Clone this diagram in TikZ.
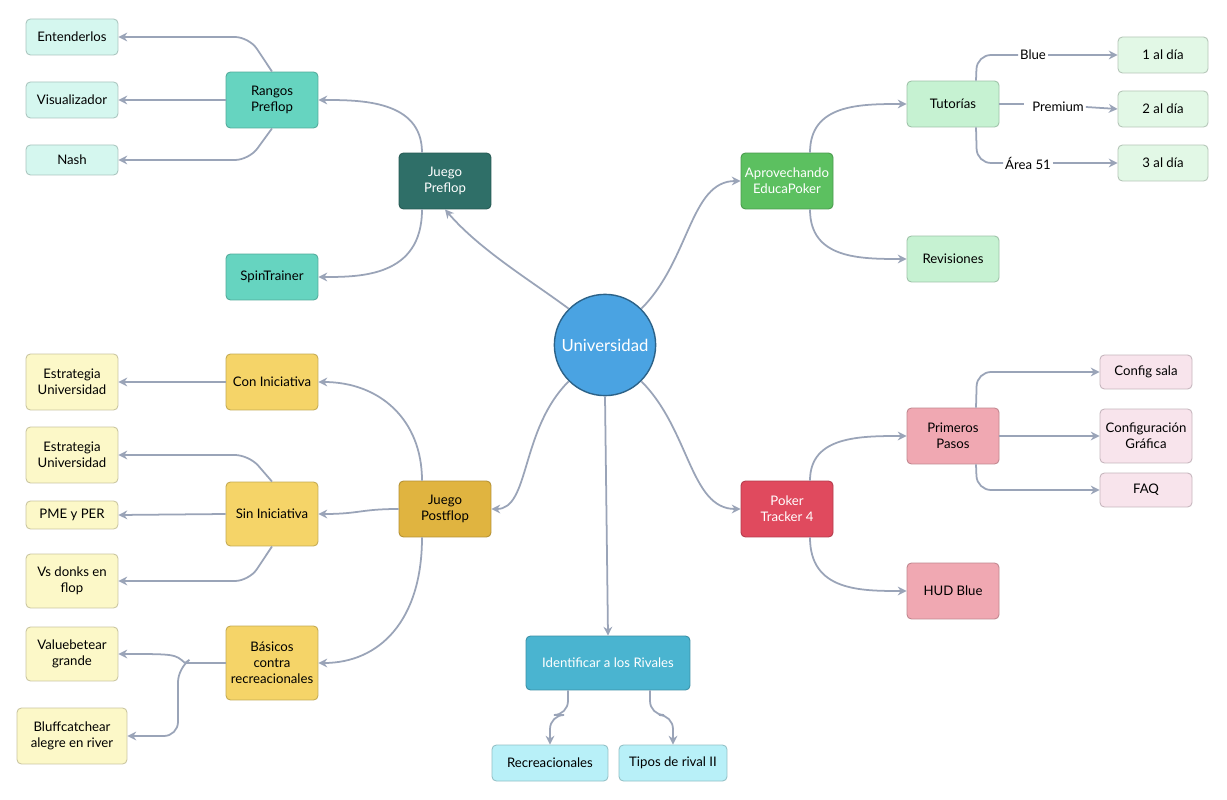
\documentclass[tikz,border=0pt]{standalone}
\usepackage{fontspec}
\setmainfont{Lato}
\usetikzlibrary{arrows.meta}
\begin{document}
\begin{tikzpicture}[x=0.02cm,y=-0.02cm,
 box/.style={draw=#1!80!black,fill=#1,rounded corners=2.5pt,align=center,font=\fontsize{7.5}{9}\selectfont,inner sep=1pt,line width=0.5pt},
 lbl/.style={font=\fontsize{7.5}{9}\selectfont,inner sep=1pt},
 con/.style={draw=cl,line width=1pt,-{Stealth[length=5pt,width=5pt]}},
 ln/.style={draw=cl,line width=1pt},
 rc/.style={rounded corners=8pt}]
\definecolor{cl}{HTML}{9AA4B8}
\definecolor{uni}{HTML}{4AA3E2}
\definecolor{dteal}{HTML}{2F6F68}
\definecolor{mteal}{HTML}{66D4C0}
\definecolor{lteal}{HTML}{D5F7EF}
\definecolor{dgreen}{HTML}{5CC060}
\definecolor{mgreen}{HTML}{C6F2D2}
\definecolor{lgreen}{HTML}{E2F8E6}
\definecolor{dred}{HTML}{E04A5E}
\definecolor{mred}{HTML}{F0A8B2}
\definecolor{lred}{HTML}{F8E4EC}
\definecolor{dyel}{HTML}{E0B440}
\definecolor{myel}{HTML}{F5D468}
\definecolor{lyel}{HTML}{FCF8C8}
\definecolor{dblue}{HTML}{4AB4D0}
\definecolor{lblue}{HTML}{B8F0F8}
\useasboundingbox (0,0) rectangle (1227,800);
\fill[white] (0,0) rectangle (1227,800);
% nodes
\node[circle,draw=uni!60!black,fill=uni,minimum size=1.8cm,text=white,font=\fontsize{9.5}{11}\selectfont,line width=0.8pt] (u) at (605,345) {Universidad};
\node[box=dteal,text=white,minimum width=1.84cm,minimum height=1.12cm] (jp) at (445,181) {Juego\\Preflop};
\node[box=mteal,minimum width=1.84cm,minimum height=1.12cm] (rp) at (272,100) {Rangos\\Preflop};
\node[box=lteal,minimum width=1.84cm,minimum height=0.72cm] (en) at (72,37) {Entenderlos};
\node[box=lteal,minimum width=1.84cm,minimum height=0.72cm] (vi) at (72,100) {Visualizador};
\node[box=lteal,minimum width=1.84cm,minimum height=0.6cm] (na) at (72,160) {Nash};
\node[box=mteal,minimum width=1.84cm,minimum height=0.92cm] (st) at (272,277) {SpinTrainer};
\node[box=dgreen,text=white,minimum width=1.84cm,minimum height=1.12cm] (ae) at (787,181) {Aprovechando\\EducaPoker};
\node[box=mgreen,minimum width=1.84cm,minimum height=0.92cm] (tu) at (953,104) {Tutorías};
\node[lbl] (bl) at (1033,55) {Blue};
\node[lbl] (pr) at (1058,107) {Premium};
\node[lbl] (a5) at (1028,163) {Área 51};
\node[box=lgreen,minimum width=1.8cm,minimum height=0.72cm] (d1) at (1163,55) {1 al día};
\node[box=lgreen,minimum width=1.8cm,minimum height=0.72cm] (d2) at (1163,109) {2 al día};
\node[box=lgreen,minimum width=1.8cm,minimum height=0.72cm] (d3) at (1163,163) {3 al día};
\node[box=mgreen,minimum width=1.84cm,minimum height=0.92cm] (re) at (953,259) {Revisiones};
\node[box=dred,text=white,minimum width=1.84cm,minimum height=1.12cm] (pt) at (787,509) {Poker\\Tracker 4};
\node[box=mred,minimum width=1.84cm,minimum height=1.12cm] (pp) at (953,436) {Primeros\\Pasos};
\node[box=lred,minimum width=1.84cm,minimum height=0.68cm] (cs) at (1146,372) {Config sala};
\node[box=lred,minimum width=1.84cm,minimum height=1.08cm] (cg) at (1146,436) {Configuración\\Gráfica};
\node[box=lred,minimum width=1.84cm,minimum height=0.68cm] (fq) at (1146,490) {FAQ};
\node[box=mred,minimum width=1.84cm,minimum height=1.12cm] (hb) at (953,591) {HUD Blue};
\node[box=dyel,minimum width=1.84cm,minimum height=1.12cm] (jo) at (445,509) {Juego\\Postflop};
\node[box=myel,minimum width=1.84cm,minimum height=1.12cm] (ci) at (272,382) {Con Iniciativa};
\node[box=lyel,minimum width=1.84cm,minimum height=1.12cm] (e1) at (72,382) {Estrategia\\Universidad};
\node[box=myel,minimum width=1.84cm,minimum height=1.28cm] (si) at (272,514) {Sin Iniciativa};
\node[box=lyel,minimum width=1.84cm,minimum height=1.12cm] (e2) at (72,455) {Estrategia\\Universidad};
\node[box=lyel,minimum width=1.84cm,minimum height=0.56cm] (pm) at (72,515) {PME y PER};
\node[box=lyel,minimum width=1.84cm,minimum height=1.08cm] (vd) at (72,581) {Vs donks en\\flop};
\node[box=myel,minimum width=1.84cm,minimum height=1.48cm] (bc) at (272,663) {Básicos\\contra\\recreacionales};
\node[box=lyel,minimum width=1.84cm,minimum height=1.08cm] (vg) at (72,654) {Valuebetear\\grande};
\node[box=lyel,minimum width=2.2cm,minimum height=1.12cm] (br) at (72,736) {Bluffcatchear\\alegre en river};
\node[box=dblue,text=white,minimum width=3.28cm,minimum height=1.08cm] (ir) at (608,663) {Identificar a los Rivales};
\node[box=lblue,minimum width=2.32cm,minimum height=0.72cm] (rc) at (550,763) {Recreacionales};
\node[box=lblue,minimum width=2.16cm,minimum height=0.72cm] (tr) at (673,763) {Tipos de rival II};
% connectors
\draw[con] (u.135) .. controls (530,280) and (480,250) .. (jp.south);
\draw[con] ([xshift=-0.46cm]jp.north) .. controls (422,100) and (360,100) .. (rp.east);
\draw[con] ([xshift=-0.46cm]jp.south) .. controls (422,277) and (360,277) .. (st.east);
\draw[con,rc] (rp.north) -- (249,37) -- (en.east);
\draw[con] (rp.west) -- (vi.east);
\draw[con,rc] (rp.south) -- (249,160) -- (na.east);
\draw[con] (u.45) .. controls (690,260) and (690,181) .. (ae.west);
\draw[con] ([xshift=0.46cm]ae.north) .. controls (810,104) and (860,104) .. (tu.west);
\draw[con] ([xshift=0.46cm]ae.south) .. controls (810,259) and (860,259) .. (re.west);
\draw[ln,rc] ([xshift=0.46cm]tu.north) -- (977,55) -- (bl.west);
\draw[ln] (tu.east) -- (1024,104);
\draw[ln,rc] ([xshift=0.46cm]tu.south) -- (977,163) -- (a5.west);
\draw[con] (bl.east) -- (d1.west);
\draw[con] (pr.east) -- (d2.west);
\draw[con] (a5.east) -- (d3.west);
\draw[con] (u.-45) .. controls (690,430) and (690,509) .. (pt.west);
\draw[con] ([xshift=0.46cm]pt.north) .. controls (810,436) and (860,436) .. (pp.west);
\draw[con] ([xshift=0.46cm]pt.south) .. controls (810,591) and (860,591) .. (hb.west);
\draw[con,rc] ([xshift=0.46cm]pp.north) -- (977,372) -- (cs.west);
\draw[con] (pp.east) -- (cg.west);
\draw[con,rc] ([xshift=0.46cm]pp.south) -- (977,490) -- (fq.west);
\draw[con] (u.225) .. controls (520,430) and (530,509) .. (jo.east);
\draw[con] ([xshift=-0.46cm]jo.north) .. controls (422,420) and (380,382) .. (ci.east);
\draw[con] (jo.west) .. controls (360,509) and (360,514) .. (si.east);
\draw[con] ([xshift=-0.46cm]jo.south) .. controls (422,620) and (380,663) .. (bc.east);
\draw[con] (ci.west) -- (e1.east);
\draw[con,rc] (si.north) -- (249,455) -- (e2.east);
\draw[con] (si.west) -- (pm.east);
\draw[con,rc] (si.south) -- (249,581) -- (vd.east);
\draw[ln] (bc.west) -- (185,663);
\draw[con] (185,663) .. controls (175,654) .. (vg.east);
\draw[con,rc] (185,663) -- (178,668) -- (178,736) -- (br.east);
\draw[con] (u.south) -- (ir.north);
\draw[con,rc] ([xshift=-0.8cm]ir.south) -- (568,715) -- (550,715) -- (rc.north);
\draw[con,rc] ([xshift=0.84cm]ir.south) -- (650,715) -- (673,715) -- (tr.north);
\end{tikzpicture}
\end{document}
